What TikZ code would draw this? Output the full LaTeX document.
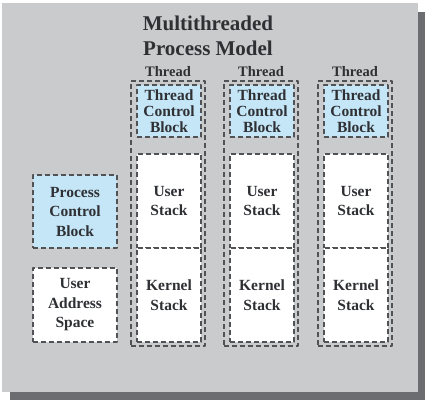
\documentclass[tikz,border=0pt]{standalone}
\usepackage{fontspec}
\setmainfont{Liberation Serif}
\usetikzlibrary{positioning}
\definecolor{panelgray}{HTML}{CACBCD}
\definecolor{shadowgray}{HTML}{6B6D70}
\definecolor{blockblue}{HTML}{C5E6F7}
\definecolor{linegray}{HTML}{505256}
\definecolor{textgray}{HTML}{2E3034}
\tikzset{
  part/.style={draw=linegray, line width=1.1pt, dash pattern=on 5pt off 3pt,
    fill=white, text=textgray, align=center, inner sep=0pt,
    font=\bfseries\fontsize{15.5}{19.5}\selectfont},
  ctrl/.style={part, fill=blockblue},
  tcbox/.style={ctrl, minimum width=64pt, minimum height=52pt,
    font=\bfseries\fontsize{15.5}{16}\selectfont},
  stackbox/.style={part, minimum width=64pt, minimum height=94pt},
  threadbox/.style={draw=linegray, line width=1.1pt, dash pattern=on 5pt off 3pt,
    minimum width=74pt, minimum height=265pt, inner sep=0pt},
  threadlabel/.style={text=textgray, font=\bfseries\fontsize{14.5}{16}\selectfont}
}
\begin{document}
\begin{tikzpicture}[x=1pt, y=-1pt, line join=round]
\useasboundingbox (0,0) rectangle (429,407);
% panel with drop shadow
\fill[shadowgray] (10,12) rectangle (425,400);
\fill[panelgray] (2,3) rectangle (418,392);
% title
\node[text=textgray, align=center, font=\bfseries\fontsize{21}{25}\selectfont] (title) at (208,36)
  {Multithreaded\\Process Model};
% process level
\node[ctrl, minimum width=84pt, minimum height=73pt] (pcb) at (75,211.5) {Process\\Control\\Block};
\node[part, minimum width=84pt, minimum height=74pt] (uas) at (75,305) {User\\Address\\Space};
% thread 1
\node[threadbox] (thread1) at (168,213.5) {};
\node[threadlabel] (tlabel1) at (168,72) {Thread};
\node[tcbox] (tcb1) at (169,111) {Thread\\Control\\Block};
\node[stackbox] (ustack1) at (169,201) {User\\Stack};
\node[stackbox] (kstack1) at (169,295) {Kernel\\Stack};
% thread 2
\node[threadbox] (thread2) at (261,213.5) {};
\node[threadlabel] (tlabel2) at (261,72) {Thread};
\node[tcbox] (tcb2) at (262,111) {Thread\\Control\\Block};
\node[stackbox] (ustack2) at (262,201) {User\\Stack};
\node[stackbox] (kstack2) at (262,295) {Kernel\\Stack};
% thread 3
\node[threadbox] (thread3) at (355,213.5) {};
\node[threadlabel] (tlabel3) at (355,72) {Thread};
\node[tcbox] (tcb3) at (356,111) {Thread\\Control\\Block};
\node[stackbox] (ustack3) at (356,201) {User\\Stack};
\node[stackbox] (kstack3) at (356,295) {Kernel\\Stack};
\end{tikzpicture}
\end{document}
